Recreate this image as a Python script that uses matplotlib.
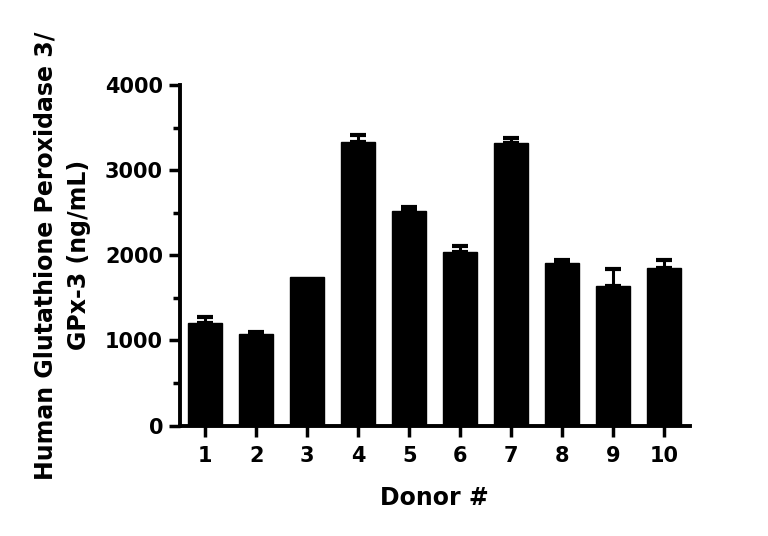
import matplotlib
matplotlib.use("Agg")
import matplotlib.pyplot as plt
from matplotlib.ticker import MultipleLocator

donors = ["1", "2", "3", "4", "5", "6", "7", "8", "9", "10"]
means = [1203, 1077, 1743, 3330, 2523, 2037, 3318, 1916, 1638, 1857]
errors = [75, 25, 0, 90, 43, 75, 63, 31, 207, 86]

plt.rcParams['font.family'] = ['DejaVu Sans']
plt.rcParams['font.weight'] = 'bold'

fig = plt.figure(figsize=(7.68, 5.36), dpi=100)
ax = fig.add_axes([0.234, 0.206, 0.664, 0.635])

x = list(range(1, len(donors) + 1))
ax.bar(x, means, width=0.66, color='black', edgecolor='black', zorder=2)
xe = [xi for xi, e in zip(x, errors) if e > 0]
me = [m for m, e in zip(means, errors) if e > 0]
ee = [e for e in errors if e > 0]
ax.errorbar(xe, me, yerr=[[0] * len(ee), ee], fmt='none',
            ecolor='black', elinewidth=2.2, capsize=6, capthick=3, zorder=3)

ax.set_xlim(0.5, 10.5)
ax.set_ylim(0, 4000)
ax.set_xticks(x)
ax.set_xticklabels(donors)
ax.yaxis.set_major_locator(MultipleLocator(1000))
ax.yaxis.set_minor_locator(MultipleLocator(500))

for s in ['top', 'right']:
    ax.spines[s].set_visible(False)
for s in ['left', 'bottom']:
    ax.spines[s].set_linewidth(2.8)

ax.tick_params(axis='both', which='major', length=8, width=2.5, labelsize=15, pad=4)
ax.tick_params(axis='x', which='major', pad=7)
ax.tick_params(axis='y', which='minor', length=5, width=2.5)
for lab in ax.get_xticklabels() + ax.get_yticklabels():
    lab.set_fontweight('bold')

ax.set_ylabel("Human Glutathione Peroxidase 3/\nGPx-3 (ng/mL)", fontsize=17,
              fontweight='bold', labelpad=10, linespacing=1.5)
ax.set_xlabel("Donor #", fontsize=17, fontweight='bold', labelpad=14)

fig.savefig("out.png", dpi=100)
